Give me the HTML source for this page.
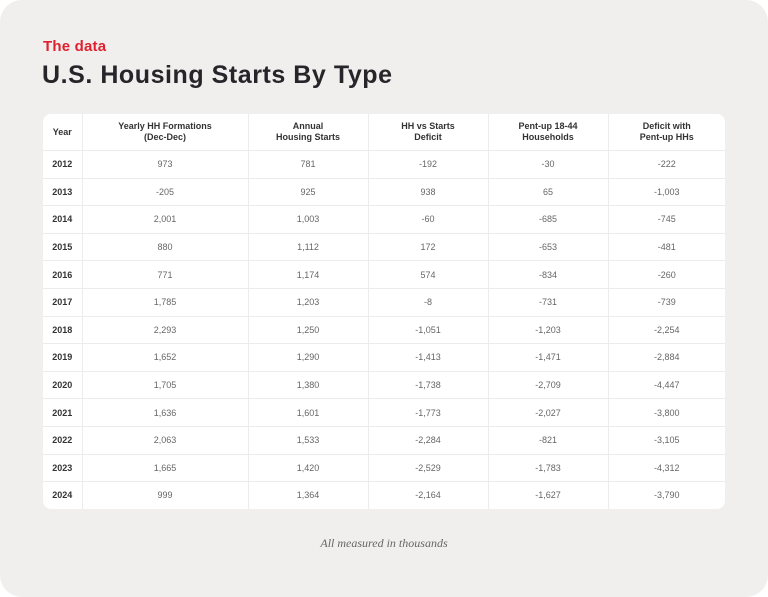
<!DOCTYPE html>
<html><head><meta charset="utf-8"><style>
html,body{margin:0;padding:0;background:#fff;}
.card{position:absolute;left:0;top:0;width:768px;height:597px;background:#f0efed;border-radius:22px;overflow:hidden;font-family:"Liberation Sans",sans-serif;}
.kick{position:absolute;left:43px;top:38px;font-size:15px;font-weight:bold;color:#e0202e;letter-spacing:0.2px;}
.title{position:absolute;left:42px;top:61px;font-size:25px;font-weight:bold;color:#26262a;letter-spacing:0.55px;}
table{position:absolute;left:43px;top:114px;width:682px;border-collapse:collapse;background:#fff;border-radius:8px;overflow:hidden;}
td,th{border:1px solid #ececec;text-align:center;font-size:9px;color:#666;padding:0;}
th{height:36px;font-weight:bold;color:#333;line-height:11px;}
td{height:26.6px;}
tr>*:first-child{font-weight:bold;color:#333;border-left:none;}
tr>*:last-child{border-right:none;}
tr:first-child>*{border-top:none;}
tr:last-child>*{border-bottom:none;}
.note{position:absolute;left:0;width:768px;top:536px;text-align:center;font-family:"Liberation Serif",serif;font-style:italic;font-size:12px;color:#666;}
</style></head><body><div class="card">
<div class="kick">The data</div>
<div class="title">U.S. Housing Starts By Type</div>
<table>
<colgroup><col style="width:39px"><col style="width:166px"><col style="width:120px"><col style="width:120px"><col style="width:120px"><col style="width:117px"></colgroup>
<tr><th>Year</th><th>Yearly HH Formations<br>(Dec-Dec)</th><th>Annual<br>Housing Starts</th><th>HH vs Starts<br>Deficit</th><th>Pent-up 18-44<br>Households</th><th>Deficit with<br>Pent-up HHs</th></tr>
<tr><td>2012</td><td>973</td><td>781</td><td>-192</td><td>-30</td><td>-222</td></tr>
<tr><td>2013</td><td>-205</td><td>925</td><td>938</td><td>65</td><td>-1,003</td></tr>
<tr><td>2014</td><td>2,001</td><td>1,003</td><td>-60</td><td>-685</td><td>-745</td></tr>
<tr><td>2015</td><td>880</td><td>1,112</td><td>172</td><td>-653</td><td>-481</td></tr>
<tr><td>2016</td><td>771</td><td>1,174</td><td>574</td><td>-834</td><td>-260</td></tr>
<tr><td>2017</td><td>1,785</td><td>1,203</td><td>-8</td><td>-731</td><td>-739</td></tr>
<tr><td>2018</td><td>2,293</td><td>1,250</td><td>-1,051</td><td>-1,203</td><td>-2,254</td></tr>
<tr><td>2019</td><td>1,652</td><td>1,290</td><td>-1,413</td><td>-1,471</td><td>-2,884</td></tr>
<tr><td>2020</td><td>1,705</td><td>1,380</td><td>-1,738</td><td>-2,709</td><td>-4,447</td></tr>
<tr><td>2021</td><td>1,636</td><td>1,601</td><td>-1,773</td><td>-2,027</td><td>-3,800</td></tr>
<tr><td>2022</td><td>2,063</td><td>1,533</td><td>-2,284</td><td>-821</td><td>-3,105</td></tr>
<tr><td>2023</td><td>1,665</td><td>1,420</td><td>-2,529</td><td>-1,783</td><td>-4,312</td></tr>
<tr><td>2024</td><td>999</td><td>1,364</td><td>-2,164</td><td>-1,627</td><td>-3,790</td></tr>
</table>
<div class="note">All measured in thousands</div>
</div></body></html>
